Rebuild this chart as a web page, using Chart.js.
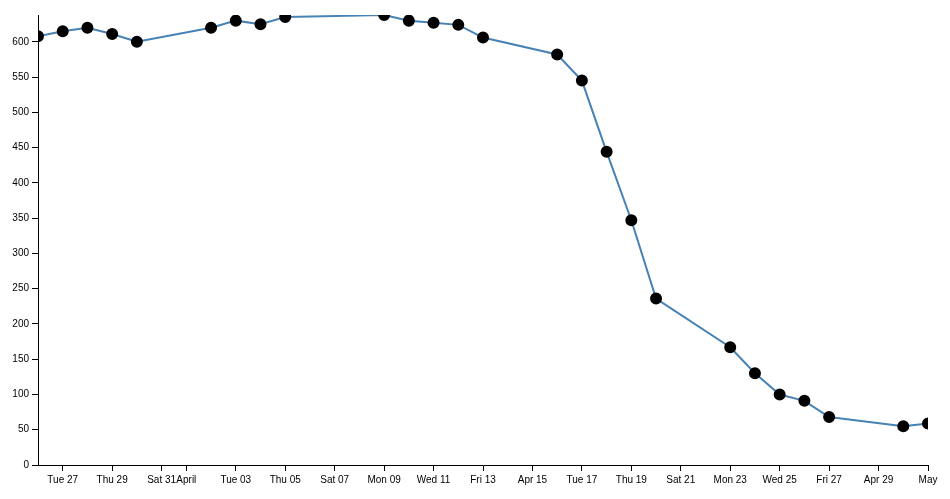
<!DOCTYPE html>
<html><head><meta charset="utf-8">
<script src="https://cdn.jsdelivr.net/npm/chart.js@4"></script>
<style>html,body{margin:0;padding:0;background:#fff}#w{width:950px;height:499px}</style>
</head><body><div id="w"><canvas id="c"></canvas></div>
<script>
const dates = ["2018-03-26","2018-03-27","2018-03-28","2018-03-29","2018-03-30","2018-04-02","2018-04-03","2018-04-04","2018-04-05","2018-04-09","2018-04-10","2018-04-11","2018-04-12","2018-04-13","2018-04-16","2018-04-17","2018-04-18","2018-04-19","2018-04-20","2018-04-23","2018-04-24","2018-04-25","2018-04-26","2018-04-27","2018-04-30","2018-05-01"];
const values = [608,615,620,611,600,620,630,625,635,638,630,627,624,606,582,545,444,347,236,167,130,100,91,68,55,59];
const tickLabels = ["Tue 27","Thu 29","Sat 31","April","Tue 03","Thu 05","Sat 07","Mon 09","Wed 11","Fri 13","Apr 15","Tue 17","Thu 19","Sat 21","Mon 23","Wed 25","Fri 27","Apr 29","May"];
const tickDates = ["2018-03-27","2018-03-29","2018-03-31","2018-04-01","2018-04-03","2018-04-05","2018-04-07","2018-04-09","2018-04-11","2018-04-13","2018-04-15","2018-04-17","2018-04-19","2018-04-21","2018-04-23","2018-04-25","2018-04-27","2018-04-29","2018-05-01"];
const base = Date.parse(dates[0]);
const day = d => (Date.parse(d) - base) / 86400000;
const pts = dates.map((d,i)=>({x:day(d), y:values[i]}));
const tickPos = tickDates.map(day);
const font = {family:'sans-serif', size:10};
new Chart(document.getElementById('c'), {
  type:'line',
  data:{datasets:[{data:pts, borderColor:'#4682b4', borderWidth:2, pointBackgroundColor:'#000', pointBorderColor:'#000', pointRadius:5, tension:0}]},
  options:{
    responsive:true, maintainAspectRatio:false, animation:false,
    layout:{padding:{top:15,right:22,left:0,bottom:0}},
    plugins:{legend:{display:false}, tooltip:{enabled:false}},
    scales:{
      x:{type:'linear', min:0, max:day("2018-05-01"),
        grid:{display:true, drawOnChartArea:false, color:'#000', tickLength:6},
        border:{color:'#000'},
        afterBuildTicks:s=>{s.ticks=tickPos.map(v=>({value:v}));},
        afterFit:s=>{s.height=34;},
        ticks:{autoSkip:false, maxRotation:0, color:'#000', font, padding:3,
          callback:(v)=>{const i=tickPos.indexOf(v);return i>=0?tickLabels[i]:'';}}},
      y:{min:0, max:638,
        grid:{display:true, drawOnChartArea:false, color:'#000', tickLength:6},
        border:{color:'#000'},
        afterBuildTicks:s=>{const t=[];for(let v=0;v<=600;v+=50)t.push({value:v});s.ticks=t;},
        afterFit:s=>{s.width=38;},
        ticks:{color:'#000', font, padding:3}}
    }
  }
});
</script></body></html>
